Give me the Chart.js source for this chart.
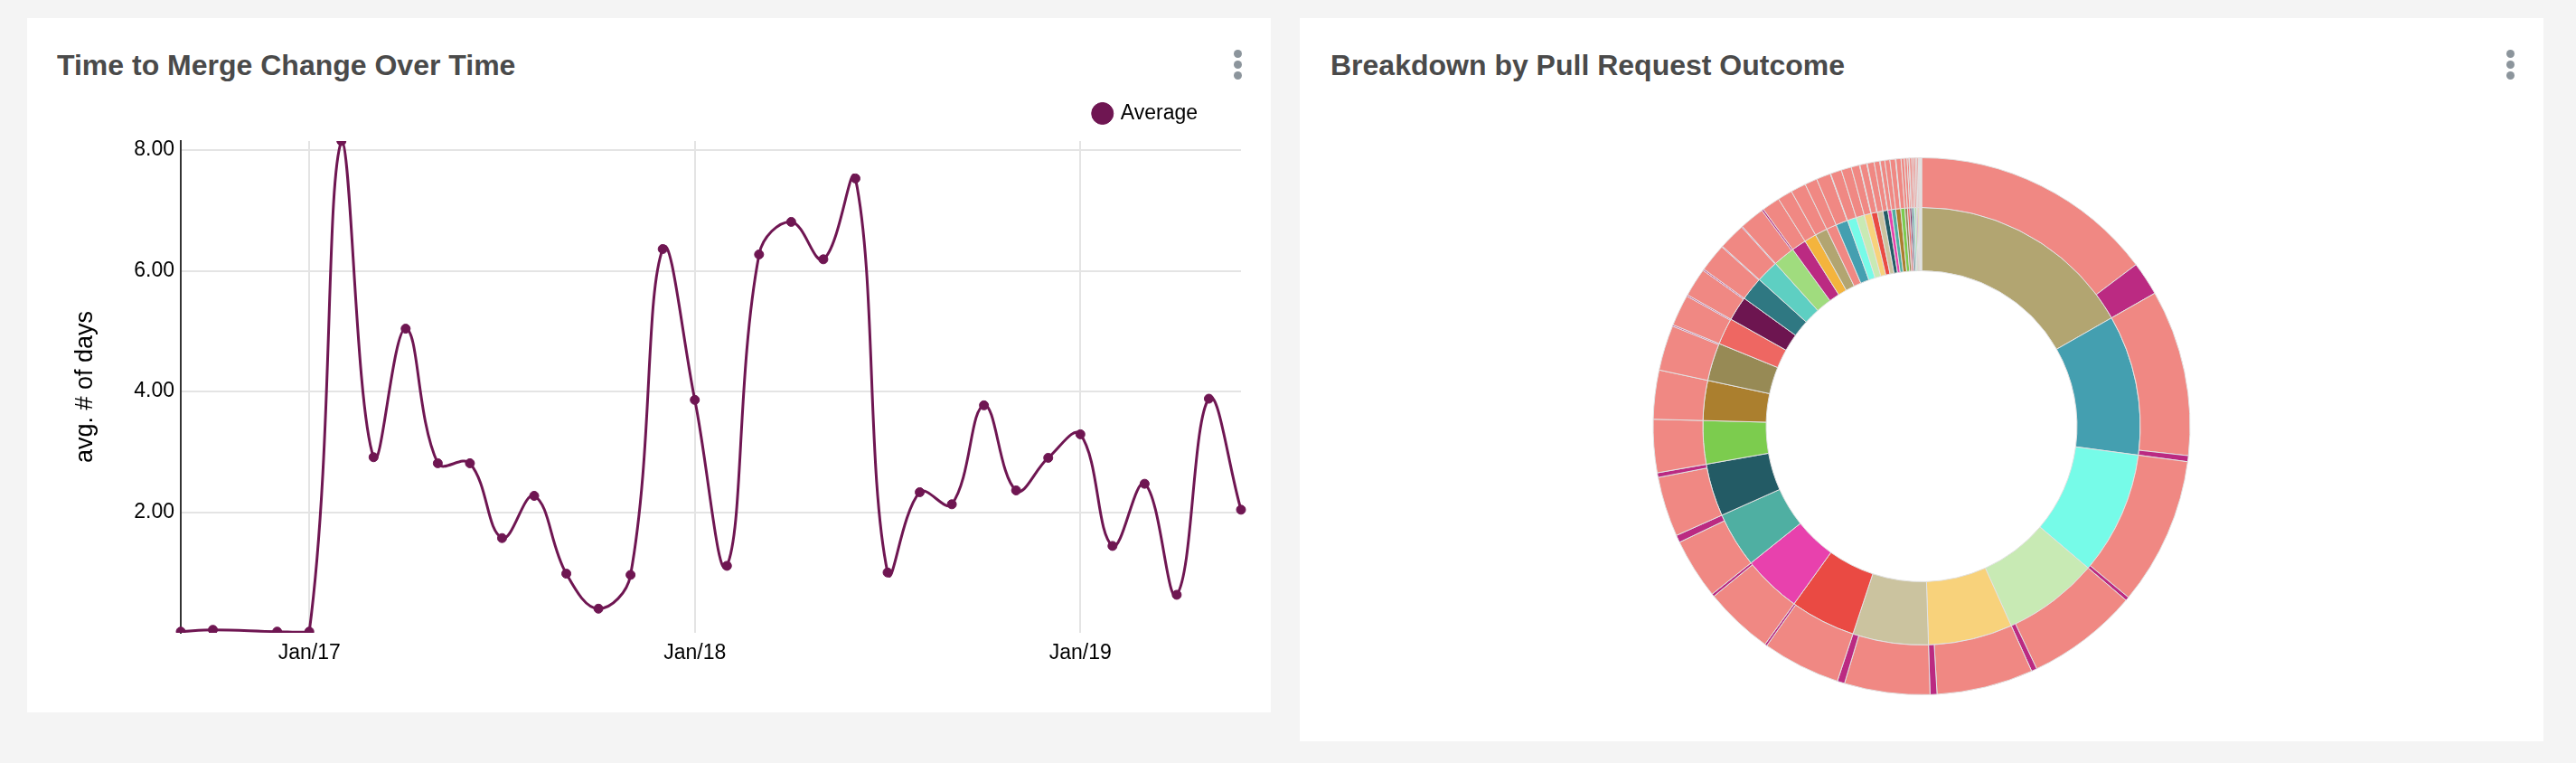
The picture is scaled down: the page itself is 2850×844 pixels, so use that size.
<!DOCTYPE html>
<html><head><meta charset="utf-8">
<script src="https://cdn.jsdelivr.net/npm/chart.js@4"></script>
<style>
html,body{margin:0;padding:0;background:#f4f4f4;width:2850px;height:844px;overflow:hidden;font-family:"Liberation Sans",Arial,sans-serif;}
.card{position:absolute;background:#fff;}
.title{position:absolute;font-weight:bold;font-size:32px;line-height:32px;color:#4a4a4a;white-space:nowrap;}
.kebab{position:absolute;width:9px;}
.kebab span{display:block;width:9px;height:9px;border-radius:50%;background:#8c959c;margin-bottom:3px;}
.wrap{position:absolute;}
</style></head>
<body>
<div class="card" style="left:30px;top:20px;width:1376px;height:768px"></div>
<div class="card" style="left:1438px;top:20px;width:1376px;height:800px"></div>
<div class="title" style="left:63px;top:56px">Time to Merge Change Over Time</div>
<div class="title" style="left:1472px;top:56px">Breakdown by Pull Request Outcome</div>
<div class="kebab" style="left:1365px;top:55px"><span></span><span></span><span></span></div>
<div class="kebab" style="left:2773px;top:55px"><span></span><span></span><span></span></div>
<div class="wrap" style="left:31px;top:66px;width:1375px;height:722px"><canvas id="line"></canvas></div>
<div class="wrap" style="left:1438px;top:174px;width:1376px;height:595px"><canvas id="pie"></canvas></div>
<script>
// ---- Line chart data ----
const monthLabels = ['Sep/16','Oct/16','Nov/16','Dec/16','Jan/17','Feb/17','Mar/17','Apr/17','May/17','Jun/17','Jul/17','Aug/17','Sep/17','Oct/17','Nov/17','Dec/17','Jan/18','Feb/18','Mar/18','Apr/18','May/18','Jun/18','Jul/18','Aug/18','Sep/18','Oct/18','Nov/18','Dec/18','Jan/19','Feb/19','Mar/19','Apr/19','May/19','Jun/19'];
const avgDaysToMerge = [0.02,0.05,null,0.02,0.02,8.15,2.91,5.04,2.81,2.81,1.57,2.27,0.98,0.40,0.96,6.36,3.86,1.11,6.27,6.81,6.19,7.53,1.00,2.33,2.13,3.77,2.36,2.90,3.29,1.44,2.47,0.63,3.88,2.04];
const yTickValues = [2,4,6,8];

// ---- Donut data ----
const prsByRepo = [603,373,328,254,224,201,174,156,147,140,115,106,101,71,65,63,60,58,39,32,33,27,32,24,22,19,16,15,13,10,11,13,11,7,6,5,5,4,4,3,3,2,2,2,1];
const closedByRepo = [73,13,8,12,15,16,5,6,16,10,0,0,3,3,3,2,2,4,0,0,0,0,1,0,0,1,1,0,1,0,0,1,0,0,0,1,0,0,0,0,0,0,0,0,0];

// ---- styles ----
const LINE = '#6f1652';
const GRID = '#e4e4e4';
const FONT = '"Liberation Sans", Arial, sans-serif';
const MERGED_COLOR = '#f08883';
const CLOSED_COLOR = '#bb2a82';
const repoColors = ['#b2a571','#449fb0','#76fbe8','#c8eab4','#f8d27b','#cbc39f','#ea4a43','#e841ad','#4fafa2','#235b65','#7ccc4e','#ab7f2e','#978a55','#ee6762','#6d1550','#2f7882','#5ecfc2','#a0dc7e','#bb2a82','#f4b43d',
  '#b2a571','#f08883','#449fb0','#76fbe8','#c8eab4','#f8d27b','#ea4a43','#cbc39f','#235b65','#e841ad','#4fafa2','#ab7f2e','#7ccc4e',
  '#978a55','#ee6762','#6d1550','#2f7882','#5ecfc2','#a0dc7e','#bb2a82','#f4b43d','#b2a571','#449fb0','#76fbe8','#c8eab4'];

Chart.defaults.font.family = FONT;
Chart.defaults.color = '#000';

new Chart(document.getElementById('line'), {
  type: 'line',
  data: {
    labels: monthLabels,
    datasets: [{
      label: 'Average',
      data: avgDaysToMerge,
      borderColor: LINE, backgroundColor: LINE,
      pointBackgroundColor: LINE, pointBorderColor: LINE,
      borderWidth: 3, pointRadius: 5, pointBorderWidth: 1,
      tension: 0.4, spanGaps: true, fill: false
    }]
  },
  options: {
    responsive: true, maintainAspectRatio: false, animation: false,
    layout: { padding: { left: 0, right: 33, top: 0, bottom: 0 } },
    plugins: {
      tooltip: { enabled: false },
      legend: {
        display: true, position: 'top', align: 'end',
        labels: { usePointStyle: true, pointStyle: 'circle', boxWidth: 17, boxHeight: 17, padding: 48, color: '#000', font: { size: 23 } }
      }
    },
    scales: {
      x: {
        type: 'category',
        grid: { color: c => (c.tick && monthLabels[c.tick.value] && monthLabels[c.tick.value].startsWith('Jan')) ? GRID : 'rgba(0,0,0,0)', lineWidth: 2, drawTicks: false },
        border: { display: false },
        ticks: { autoSkip: false, maxRotation: 0, padding: 9, color: '#000', font: { size: 23 },
          callback: function(v) { const l = monthLabels[v]; return l.startsWith('Jan') ? l : ''; } },
        afterFit: a => { a.height = 88; }
      },
      y: {
        min: 0, max: 8.15,
        ticks: { stepSize: 2, includeBounds: false, padding: 7, color: '#000', font: { size: 23 },
          callback: v => yTickValues.includes(v) ? v.toFixed(2) : '' },
        grid: { color: c => (c.tick && yTickValues.includes(c.tick.value)) ? GRID : 'rgba(0,0,0,0)', lineWidth: 2, drawTicks: false },
        border: { display: true, color: '#333', width: 2 },
        title: { display: true, text: 'avg. # of days', color: '#000', font: { size: 27 }, padding: { top: 47, bottom: 4 } },
        afterFit: a => { a.width = 169; }
      }
    }
  },
  plugins: [{
    id: 'legendHeight',
    beforeLayout(chart) {
      const lg = chart.legend;
      if (lg && !lg._fixedFit) {
        const orig = lg.fit;
        lg.fit = function() { orig.call(this); this.height = 90; };
        lg._fixedFit = true;
      }
    }
  }]
});

const outerData = [], outerColors = [];
prsByRepo.forEach((total, i) => {
  outerData.push(total - closedByRepo[i]); outerColors.push(MERGED_COLOR);
  outerData.push(closedByRepo[i]); outerColors.push(CLOSED_COLOR);
});

new Chart(document.getElementById('pie'), {
  type: 'doughnut',
  data: {
    datasets: [
      { label: 'Outcome', data: outerData, backgroundColor: outerColors, borderColor: '#e2e2e2', borderWidth: 1, weight: 55 },
      { label: 'Repository', data: prsByRepo, backgroundColor: repoColors, borderColor: '#e2e2e2', borderWidth: 1, weight: 70 }
    ]
  },
  options: {
    responsive: true, maintainAspectRatio: false, animation: false,
    cutout: '57.9%',
    layout: { padding: 0 },
    plugins: { legend: { display: false }, tooltip: { enabled: false } }
  }
});
</script>
</body></html>
